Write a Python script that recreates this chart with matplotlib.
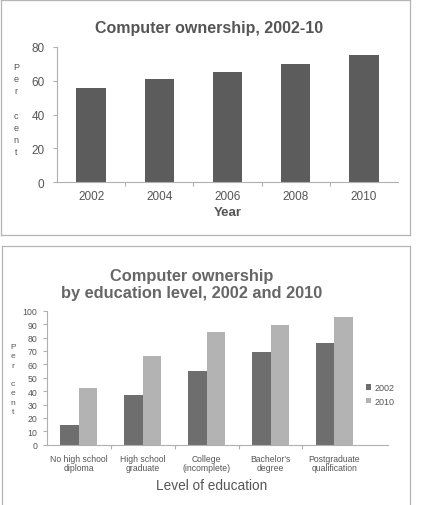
import matplotlib
matplotlib.use("Agg")
import matplotlib.pyplot as plt
from matplotlib.lines import Line2D
import numpy as np

plt.rcParams['font.family'] = ['Liberation Sans', 'DejaVu Sans']

# ---- data ----
years = ["2002", "2004", "2006", "2008", "2010"]
ownership = [56, 61, 65, 70, 75]

edu_levels = ["No high school\ndiploma", "High school\ngraduate", "College\n(incomplete)",
              "Bachelor's\ndegree", "Postgraduate\nqualification"]
own_2002 = [15, 37, 55, 69, 76]
own_2010 = [42, 66, 84, 89, 95]
series_names = ["2002", "2010"]

TXT = "#555555"
SPINE = "#b0b0b0"
W, H = 448, 506

fig = plt.figure(figsize=(W / 100, H / 100), dpi=100)
fig.patch.set_facecolor("white")

def fx(px):
    return px / W

def fy(py):
    return 1 - py / H

# panel borders
border = "#b5b5b5"
for (x0, y0, x1, y1) in [(1, 1, 410, 1), (1, 1, 1, 236), (410, 1, 410, 236), (1, 236, 410, 236),
                         (2, 247, 410, 247), (2, 247, 2, 506), (410, 247, 410, 506)]:
    fig.add_artist(Line2D([fx(x0), fx(x1)], [fy(y0), fy(y1)], color=border, lw=0.9,
                          transform=fig.transFigure))

def style_axes(ax, tick_size):
    for s in ["top", "right"]:
        ax.spines[s].set_visible(False)
    for s in ["left", "bottom"]:
        ax.spines[s].set_color(SPINE)
        ax.spines[s].set_linewidth(0.8)
    ax.tick_params(axis="y", colors=SPINE, labelcolor=TXT, labelsize=tick_size, length=3, width=0.8, pad=6)
    ax.tick_params(axis="x", which="major", length=0, labelcolor=TXT, pad=6)
    ax.tick_params(axis="x", which="minor", length=3, width=0.8, colors=SPINE)

# ---- top chart ----
ax1 = fig.add_axes([fx(57), fy(183), fx(398) - fx(57), fy(48) - fy(183)])
x1 = np.arange(len(years))
ax1.bar(x1, ownership, width=0.43, color="#5c5c5c")
ax1.set_xlim(-0.5, len(years) - 0.5)
ax1.set_ylim(0, 80)
ax1.set_yticks([0, 20, 40, 60, 80])
ax1.set_xticks(x1)
ax1.set_xticklabels(years, fontsize=8.5)
ax1.set_xticks(np.arange(0.5, len(years) - 0.5, 1), minor=True)
style_axes(ax1, 8.5)
fig.text(fx(209), fy(28), "Computer ownership, 2002-10", ha="center", va="center",
         fontsize=11.5, fontweight="bold", color=TXT)
fig.text(fx(228), fy(213), "Year", ha="center", va="center", fontsize=9.5,
         fontweight="bold", color=TXT)
fig.text(fx(16), fy(110), "P\ne\nr\n\nc\ne\nn\nt", ha="center", va="center",
         fontsize=6.5, color=TXT, linespacing=1.45)

# ---- bottom chart ----
ax2 = fig.add_axes([fx(47), fy(445.7), fx(388) - fx(47), fy(311.7) - fy(445.7)])
x2 = np.arange(len(edu_levels))
bw = 0.29
ax2.bar(x2 - bw / 2, own_2002, width=bw, color="#6e6e6e", label=series_names[0])
ax2.bar(x2 + bw / 2, own_2010, width=bw, color="#b3b3b3", label=series_names[1])
ax2.set_xlim(-0.5, 4.84)
ax2.set_ylim(0, 100)
ax2.set_yticks(np.arange(0, 101, 10))
ax2.set_xticks(x2)
ax2.set_xticklabels(edu_levels, fontsize=6.2, linespacing=1.0)
ax2.set_xticks(np.arange(0.5, len(edu_levels) - 0.5, 1), minor=True)
style_axes(ax2, 6.3)
ax2.tick_params(axis="y", pad=4)
ax2.tick_params(axis="x", which="major", pad=7)
leg = ax2.legend(loc="upper left", bbox_to_anchor=((366 - 47) / 341, (445.7 - 384) / 134),
                 frameon=False, fontsize=6.5, handlelength=0.55, handleheight=0.55,
                 handletextpad=0.4, labelspacing=0.55, borderaxespad=0, borderpad=0)
for t in leg.get_texts():
    t.set_color(TXT)
fig.text(fx(192), fy(285), "Computer ownership\nby education level, 2002 and 2010",
         ha="center", va="center", fontsize=11.8, fontweight="bold", color="#666666",
         linespacing=1.15)
fig.text(fx(212), fy(486), "Level of education", ha="center", va="center",
         fontsize=9.8, color=TXT)
fig.text(fx(13), fy(380), "P\ne\nr\n\nc\ne\nn\nt", ha="center", va="center",
         fontsize=6, color=TXT, linespacing=1.45)

fig.savefig("out.png", dpi=100)
